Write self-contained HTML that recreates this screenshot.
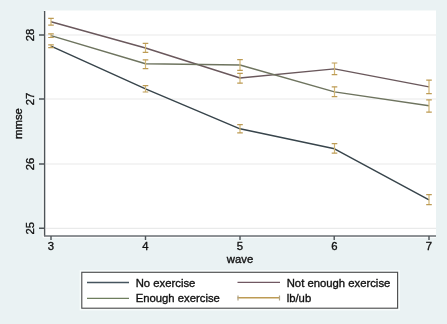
<!DOCTYPE html>
<html><head><meta charset="utf-8"><style>
html,body{margin:0;padding:0;background:#eaf2f3;width:447px;height:324px;overflow:hidden;font-family:"Liberation Sans",sans-serif;}
svg{display:block;will-change:transform}
</style></head><body>
<svg width="447" height="324" viewBox="0 0 447 324">
<rect width="447" height="324" fill="#eaf2f3"/>
<rect x="44" y="10.5" width="392" height="225" fill="#ffffff"/>
<g stroke="#e9eaea" stroke-width="1.2"><line x1="46" x2="436" y1="35" y2="35"/><line x1="46" x2="436" y1="99" y2="99"/><line x1="46" x2="436" y1="164" y2="164"/><line x1="46" x2="436" y1="228.3" y2="228.3"/></g>
<polyline points="51,46.2 145.5,88.8 240,128.8 334.5,148.8 429,199.8" fill="none" stroke="#37444b" stroke-width="1.45" stroke-linejoin="round"/>
<polyline points="51,21.7 145.5,48.0 240,78.0 334.5,68.9 429,86.9" fill="none" stroke="#6a585c" stroke-width="1.45" stroke-linejoin="round"/>
<polyline points="51,35.6 145.5,63.8 240,65.0 334.5,91.9 429,105.7" fill="none" stroke="#6e745f" stroke-width="1.45" stroke-linejoin="round"/>
<g fill="none" stroke="#bd9b54" stroke-width="1.2"><path d="M51,44.8V47.6" stroke="#d1b676"/><path d="M48.2,44.8H53.8M48.2,47.6H53.8"/><path d="M145.5,85.6V92.0" stroke="#d1b676"/><path d="M142.7,85.6H148.3M142.7,92.0H148.3"/><path d="M240,124.6V132.9" stroke="#d1b676"/><path d="M237.2,124.6H242.8M237.2,132.9H242.8"/><path d="M334.5,143.7V153.1" stroke="#d1b676"/><path d="M331.7,143.7H337.3M331.7,153.1H337.3"/><path d="M429,194.7V204.6" stroke="#d1b676"/><path d="M426.2,194.7H431.8M426.2,204.6H431.8"/><path d="M51,18.3V25.1" stroke="#d1b676"/><path d="M48.2,18.3H53.8M48.2,25.1H53.8"/><path d="M145.5,43.3V52.4" stroke="#d1b676"/><path d="M142.7,43.3H148.3M142.7,52.4H148.3"/><path d="M240,73.3V83.2" stroke="#d1b676"/><path d="M237.2,73.3H242.8M237.2,83.2H242.8"/><path d="M334.5,63.0V74.7" stroke="#d1b676"/><path d="M331.7,63.0H337.3M331.7,74.7H337.3"/><path d="M429,80.1V93.7" stroke="#d1b676"/><path d="M426.2,80.1H431.8M426.2,93.7H431.8"/><path d="M51,33.8V37.5" stroke="#d1b676"/><path d="M48.2,33.8H53.8M48.2,37.5H53.8"/><path d="M145.5,59.8V68.7" stroke="#d1b676"/><path d="M142.7,59.8H148.3M142.7,68.7H148.3"/><path d="M240,59.6V70.3" stroke="#d1b676"/><path d="M237.2,59.6H242.8M237.2,70.3H242.8"/><path d="M334.5,86.8V96.7" stroke="#d1b676"/><path d="M331.7,86.8H337.3M331.7,96.7H337.3"/><path d="M429,99.9V112.2" stroke="#d1b676"/><path d="M426.2,99.9H431.8M426.2,112.2H431.8"/></g>
<path d="M43.2,12V237.3H436" stroke="#fff" stroke-width="1" fill="none"/>
<path d="M44.6,11V236" stroke="#4e5458" stroke-width="1.4" fill="none"/>
<path d="M44,236H436" stroke="#6c7074" stroke-width="1.7" fill="none"/>
<g stroke="#4e5458" stroke-width="1.4" fill="none">
<path d="M39,35H44M39,99H44M39,164H44M39,228.3H44"/>
<path d="M51,236V240M145.5,236V240M240,236V240M334.2,236V240M429,236V240"/>
</g>
<g font-family="'Liberation Sans', sans-serif" font-size="11.3" fill="#111" stroke="#111" stroke-width="0.35">
<g text-anchor="middle">
<text x="51" y="250">3</text><text x="145.5" y="250">4</text><text x="240" y="250">5</text><text x="334.5" y="250">6</text><text x="429" y="250">7</text>
<text x="240" y="262.5">wave</text>
<text transform="translate(34.0,35) rotate(-90)">28</text>
<text transform="translate(34.0,99) rotate(-90)">27</text>
<text transform="translate(34.0,164) rotate(-90)">26</text>
<text transform="translate(34.0,228.3) rotate(-90)">25</text>
<text transform="translate(21.9,123.5) rotate(-90)">mmse</text>
</g>
</g>
<rect x="80.3" y="270.8" width="319" height="39" fill="none" stroke="#fbfdfd" stroke-width="1.2"/>
<rect x="81.8" y="272.3" width="315.8" height="35.9" fill="#fff" stroke="#4a4a4a" stroke-width="1.1"/>
<line x1="87" x2="129" y1="282.5" y2="282.5" stroke="#45545e" stroke-width="1.3"/>
<line x1="87" x2="129" y1="298.4" y2="298.4" stroke="#6e7e5e" stroke-width="1.3"/>
<line x1="237.5" x2="280" y1="282.4" y2="282.4" stroke="#705862" stroke-width="1.3"/>
<g stroke="#bd9b54" stroke-width="1.2"><path d="M237.5,297.8H280" stroke-width="1.5"/><path d="M238,295.5V300.5M279.5,295.5V300.5" stroke="#b0a384"/></g>
<g font-family="'Liberation Sans', sans-serif" font-size="11.3" fill="#111" stroke="#111" stroke-width="0.35">
<text x="135.7" y="286.5">No exercise</text>
<text x="135.7" y="302.3">Enough exercise</text>
<text x="286.7" y="286.5">Not enough exercise</text>
<text x="286.7" y="302.3">lb/ub</text>
</g>
</svg>
</body></html>
